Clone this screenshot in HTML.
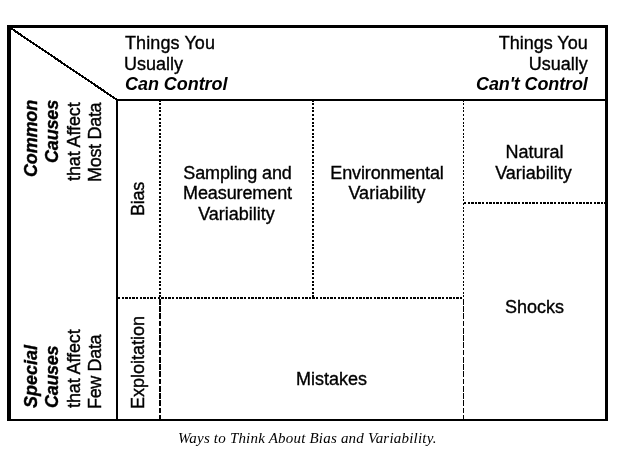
<!DOCTYPE html>
<html>
<head>
<meta charset="utf-8">
<style>
html,body{margin:0;padding:0;background:#fff;}
body{width:627px;height:472px;position:relative;overflow:hidden;font-family:"Liberation Sans",sans-serif;font-size:18px;color:#000;}
svg{position:absolute;left:0;top:0;}
.t{position:absolute;white-space:nowrap;line-height:20.5px;will-change:transform;-webkit-text-stroke:0.35px #000;}
.c{text-align:center;}
.r{text-align:right;}
.bi{font-weight:bold;font-style:italic;-webkit-text-stroke:0;}
.rot{position:absolute;white-space:nowrap;line-height:21.3px;transform-origin:0 0;transform:rotate(-90deg);will-change:transform;-webkit-text-stroke:0.35px #000;}
.cap{position:absolute;font-family:"Liberation Serif",serif;font-style:italic;font-size:15px;white-space:nowrap;letter-spacing:0.2px;will-change:transform;}
</style>
</head>
<body>
<svg width="627" height="472" viewBox="0 0 627 472" shape-rendering="crispEdges">
  <!-- outer frame -->
  <rect x="7" y="25" width="4" height="396" fill="#000"/>
  <rect x="7" y="25" width="601" height="3" fill="#000"/>
  <rect x="605" y="25" width="3" height="396" fill="#000"/>
  <rect x="7" y="419" width="601" height="2" fill="#000"/>
  <!-- header rule & left column rule -->
  <rect x="116" y="99" width="489" height="2" fill="#000"/>
  <rect x="116" y="99" width="2" height="320" fill="#000"/>
  <rect x="159" y="101" width="2" height="1" fill="#000"/>
  <rect x="312" y="101" width="2" height="1" fill="#000"/>
  <rect x="463" y="101" width="1" height="1" fill="#000"/>
  <!-- dotted verticals (upper) -->
  <g stroke="#000" fill="none">
    <line x1="160" y1="103" x2="160" y2="297" stroke-width="2" stroke-dasharray="2 1.7"/>
    <line x1="313" y1="103" x2="313" y2="297" stroke-width="2" stroke-dasharray="2 1.7"/>
    <line x1="463.5" y1="103" x2="463.5" y2="297" stroke-width="1" stroke-dasharray="2 1.7"/>
    <!-- dashed verticals (lower) -->
    <line x1="160" y1="298.75" x2="160" y2="419" stroke-width="2" stroke-dasharray="5.75 1.5"/>
    <line x1="463.5" y1="298.75" x2="463.5" y2="419" stroke-width="1" stroke-dasharray="5.75 1.5"/>
    <!-- dotted horizontals -->
    <line x1="118" y1="298" x2="464" y2="298" stroke-width="2" stroke-dasharray="2.4 1.2"/>
    <line x1="464" y1="203" x2="605" y2="203" stroke-width="2" stroke-dasharray="2.4 1.2"/>
  </g>
  <!-- diagonal -->
  <line x1="10" y1="27.6" x2="117" y2="99.8" stroke="#000" stroke-width="2"/>
</svg>

<!-- header left -->
<div class="t" style="left:125px;top:33px;letter-spacing:0.1px;">Things You</div>
<div class="t" style="left:124px;top:53.5px;">Usually</div>
<div class="t bi" style="left:125px;top:74px;letter-spacing:-0.05px;">Can Control</div>
<!-- header right -->
<div class="t r" style="right:39px;top:33px;">Things You<br>Usually<br><span class="bi" style="letter-spacing:-0.12px;">Can't Control</span></div>

<!-- row labels rotated -->
<div class="rot bi" style="left:21px;top:177px;letter-spacing:-0.17px;">Common</div>
<div class="rot bi" style="left:42.3px;top:163px;letter-spacing:-0.17px;">Causes</div>
<div class="rot" style="left:63.6px;top:181px;letter-spacing:-0.1px;">that Affect</div>
<div class="rot" style="left:84.9px;top:182px;letter-spacing:-0.3px;">Most Data</div>
<div class="rot bi" style="left:21px;top:408px;">Special</div>
<div class="rot bi" style="left:42.3px;top:408px;letter-spacing:-0.3px;">Causes</div>
<div class="rot" style="left:63.6px;top:408px;letter-spacing:-0.1px;">that Affect</div>
<div class="rot" style="left:84.9px;top:409px;letter-spacing:-0.35px;">Few Data</div>

<div class="rot" style="left:128px;top:216px;letter-spacing:-0.25px;">Bias</div>
<div class="rot" style="left:128px;top:409px;">Exploitation</div>

<!-- cells -->
<div class="t c" style="left:162px;top:163px;width:151px;letter-spacing:-0.15px;">Sampling and</div>
<div class="t c" style="left:162px;top:183px;width:151px;letter-spacing:-0.1px;">Measurement</div>
<div class="t c" style="left:160.5px;top:204px;width:151px;">Variability</div>
<div class="t c" style="left:313px;top:163px;width:148px;letter-spacing:-0.12px;">Environmental</div>
<div class="t c" style="left:312.5px;top:183px;width:148px;letter-spacing:0.05px;">Variability</div>
<div class="t c" style="left:464px;top:142px;width:141px;">Natural</div>
<div class="t c" style="left:463px;top:163px;width:141px;">Variability</div>
<div class="t c" style="left:464px;top:297px;width:141px;">Shocks</div>
<div class="t" style="left:296px;top:369px;">Mistakes</div>

<div class="cap" style="left:178px;top:430px;">Ways to Think About Bias and Variability.</div>
</body>
</html>
